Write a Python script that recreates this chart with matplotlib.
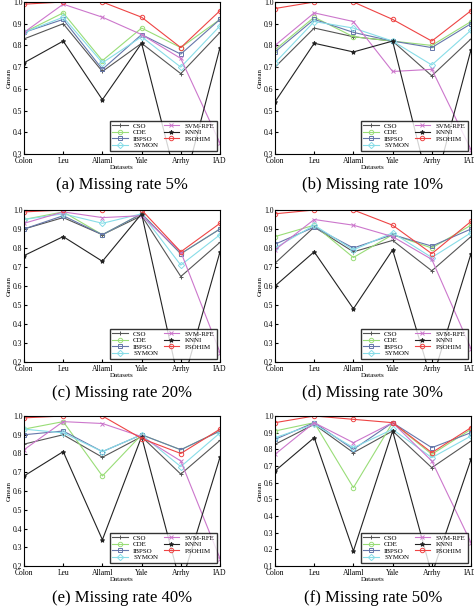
import numpy as np
import matplotlib
matplotlib.use("Agg")
import matplotlib.pyplot as plt

plt.rcParams['font.family'] = ['Liberation Serif', 'DejaVu Serif']

datasets = ['Colon', 'Leu', 'Allaml', 'Yale', 'Arrhy', 'IAD']
methods = ['CSO', 'CDE', 'IBPSO', 'SYMON', 'SVM-RFE', 'KNNI', 'PSOHIM']
captions = ['(a) Missing rate 5%', '(b) Missing rate 10%', '(c) Missing rate 20%',
            '(d) Missing rate 30%', '(e) Missing rate 40%', '(f) Missing rate 50%']
ylims = [(0.3, 1), (0.3, 1), (0.2, 1), (0.2, 1), (0.2, 1), (0.1, 1)]

rate5 = {
    'CSO': [0.83, 0.90, 0.68, 0.81, 0.67, 0.86],
    'CDE': [0.86, 0.95, 0.73, 0.88, 0.79, 0.92],
    'IBPSO': [0.86, 0.92, 0.69, 0.85, 0.76, 0.92],
    'SYMON': [0.86, 0.93, 0.72, 0.84, 0.70, 0.89],
    'SVM-RFE': [0.86, 0.99, 0.93, 0.85, 0.74, 0.35],
    'KNNI': [0.72, 0.82, 0.55, 0.81, 0.10, 0.79],
    'PSOHIM': [0.99, 1.00, 1.00, 0.93, 0.79, 0.96],
}
rate10 = {
    'CSO': [0.70, 0.88, 0.84, 0.82, 0.66, 0.83],
    'CDE': [0.78, 0.93, 0.84, 0.82, 0.80, 0.91],
    'IBPSO': [0.77, 0.92, 0.86, 0.82, 0.79, 0.90],
    'SYMON': [0.72, 0.91, 0.88, 0.82, 0.71, 0.87],
    'SVM-RFE': [0.80, 0.95, 0.91, 0.68, 0.69, 0.32],
    'KNNI': [0.54, 0.81, 0.77, 0.82, 0.10, 0.78],
    'PSOHIM': [0.97, 1.00, 1.00, 0.92, 0.82, 0.96],
}
rate20 = {
    'CSO': [0.90, 0.96, 0.87, 0.97, 0.65, 0.83],
    'CDE': [0.95, 0.99, 0.87, 0.98, 0.77, 0.90],
    'IBPSO': [0.90, 0.97, 0.87, 0.98, 0.77, 0.90],
    'SYMON': [0.95, 0.98, 0.93, 0.98, 0.71, 0.87],
    'SVM-RFE': [0.93, 0.99, 0.96, 0.97, 0.78, 0.25],
    'KNNI': [0.76, 0.86, 0.73, 0.98, 0.05, 0.78],
    'PSOHIM': [0.99, 1.00, 1.00, 1.00, 0.78, 0.93],
}
rate30 = {
    'CSO': [0.72, 0.91, 0.78, 0.84, 0.68, 0.86],
    'CDE': [0.86, 0.92, 0.75, 0.87, 0.80, 0.92],
    'IBPSO': [0.82, 0.91, 0.80, 0.87, 0.81, 0.90],
    'SYMON': [0.80, 0.92, 0.79, 0.88, 0.75, 0.88],
    'SVM-RFE': [0.79, 0.95, 0.92, 0.86, 0.74, 0.27],
    'KNNI': [0.60, 0.78, 0.48, 0.79, 0.10, 0.77],
    'PSOHIM': [0.98, 1.00, 1.00, 0.92, 0.77, 0.94],
}
rate40 = {
    'CSO': [0.85, 0.90, 0.78, 0.89, 0.69, 0.87],
    'CDE': [0.93, 0.97, 0.68, 0.90, 0.82, 0.92],
    'IBPSO': [0.90, 0.92, 0.81, 0.90, 0.82, 0.92],
    'SYMON': [0.93, 0.91, 0.81, 0.90, 0.73, 0.91],
    'SVM-RFE': [0.82, 0.97, 0.96, 0.89, 0.76, 0.24],
    'KNNI': [0.68, 0.81, 0.34, 0.89, 0.10, 0.78],
    'PSOHIM': [0.99, 1.00, 1.00, 0.88, 0.80, 0.93],
}
rate50 = {
    'CSO': [0.83, 0.95, 0.78, 0.91, 0.69, 0.85],
    'CDE': [0.91, 0.96, 0.57, 0.96, 0.77, 0.92],
    'IBPSO': [0.86, 0.96, 0.80, 0.96, 0.81, 0.90],
    'SYMON': [0.87, 0.95, 0.81, 0.92, 0.75, 0.88],
    'SVM-RFE': [0.77, 0.96, 0.84, 0.96, 0.73, 0.24],
    'KNNI': [0.67, 0.87, 0.19, 0.91, 0.05, 0.74],
    'PSOHIM': [0.96, 1.00, 0.98, 0.96, 0.78, 0.93],
}
all_rates = [rate5, rate10, rate20, rate30, rate40, rate50]

styles = {
    'CSO': dict(color='#555555', marker='+'),
    'CDE': dict(color='#99dd77', marker='o', mfc='none'),
    'IBPSO': dict(color='#6677aa', marker='s', mfc='none'),
    'SYMON': dict(color='#88dde8', marker='D', mfc='none'),
    'SVM-RFE': dict(color='#cc77cc', marker='x'),
    'KNNI': dict(color='#222222', marker='*'),
    'PSOHIM': dict(color='#ee4444', marker='o', mfc='none'),
}

fig = plt.figure(figsize=(4.74, 6.13), dpi=100)
W, H = 474, 613
boxes = [(24, 2, 196, 152), (275, 2, 196, 152),
         (24, 210, 196, 152), (275, 210, 196, 152),
         (24, 416, 196, 150), (275, 416, 196, 150)]
cap_y = [185, 185, 393, 393, 598, 598]
x = np.arange(len(datasets))

for i, data in enumerate(all_rates):
    l, t, w, h = boxes[i]
    ax = fig.add_axes([l / W, 1 - (t + h) / H, w / W, h / H])
    for m in methods:
        ax.plot(x, data[m], lw=0.8, ms=3.2, mew=0.7, label=m, **styles[m])
    ax.set_xlim(0, len(datasets) - 1)
    ax.set_ylim(*ylims[i])
    ax.set_xticks(x)
    ax.set_xticklabels(datasets, fontsize=5.5)
    ax.tick_params(axis='y', labelsize=5.5, length=2, direction='in', pad=1)
    ax.tick_params(axis='x', length=2, direction='in', pad=2)
    ax.set_xlabel('Datasets', fontsize=5, labelpad=0)
    ax.set_ylabel('Gmean', fontsize=5, labelpad=1)
    ax.legend(ncol=2, loc='lower right', fontsize=5, frameon=True,
              fancybox=False, edgecolor='black', handlelength=2.2,
              borderpad=0.3, labelspacing=0.1, columnspacing=0.8)
    cx = (l + w / 2) / W
    fig.text(cx, 1 - cap_y[i] / H, captions[i], ha='center', va='center', fontsize=12)

fig.savefig('out.png', dpi=100)
